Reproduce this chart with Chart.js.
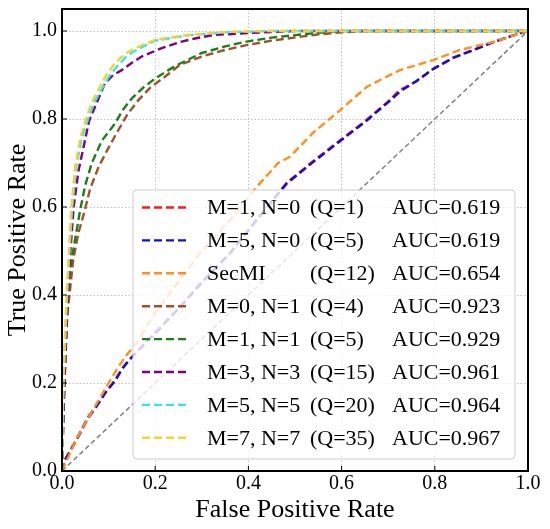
<!DOCTYPE html>
<html>
<head>
<meta charset="utf-8">
<title>ROC curves</title>
<script src="https://cdn.jsdelivr.net/npm/chart.js@4.4.0/dist/chart.umd.min.js"></script>
<style>
  html, body { margin: 0; padding: 0; background: #fff; }
  #wrap { width: 550px; height: 529px; }
</style>
</head>
<body>
<div id="wrap"><canvas id="rocChart" width="550" height="529"></canvas></div>
<script>
// Legend text, three columns
const seriesNames = ['M=1, N=0', 'M=5, N=0', 'SecMI', 'M=0, N=1', 'M=1, N=1', 'M=3, N=3', 'M=5, N=5', 'M=7, N=7'];
const queryLabels = ['(Q=1)', '(Q=5)', '(Q=12)', '(Q=4)', '(Q=5)', '(Q=15)', '(Q=20)', '(Q=35)'];
const aucLabels = ['AUC=0.619', 'AUC=0.619', 'AUC=0.654', 'AUC=0.923', 'AUC=0.929', 'AUC=0.961', 'AUC=0.964', 'AUC=0.967'];
const seriesColors = ['#ff1a1a', '#1010d0', '#ff9020', '#a0522d', '#1a7f1a', '#800080', '#33e6e6', '#f2d233'];

const xTicks = [0, 0.2, 0.4, 0.6, 0.8, 1.0];
const yTicks = [0, 0.2, 0.4, 0.6, 0.8, 1.0];

// ROC points
const fprM1N0 = [0, 0.006, 0.03, 0.056, 0.075, 0.092, 0.114, 0.13, 0.146, 0.2, 0.253, 0.3, 0.36, 0.42, 0.482, 0.54, 0.597, 0.65, 0.7, 0.725, 0.76, 0.797, 0.84, 0.882, 0.925, 0.96, 1];
const tprM1N0 = [0, 0.025, 0.07, 0.123, 0.15, 0.177, 0.207, 0.235, 0.255, 0.315, 0.373, 0.43, 0.495, 0.575, 0.655, 0.705, 0.752, 0.795, 0.84, 0.866, 0.885, 0.914, 0.94, 0.957, 0.975, 0.987, 1];

const fprM5N0 = [0, 0.006, 0.03, 0.056, 0.075, 0.092, 0.114, 0.13, 0.146, 0.2, 0.253, 0.3, 0.36, 0.42, 0.482, 0.54, 0.597, 0.65, 0.7, 0.725, 0.76, 0.797, 0.84, 0.882, 0.925, 0.96, 1];
const tprM5N0 = [0, 0.024, 0.068, 0.12, 0.148, 0.176, 0.205, 0.233, 0.254, 0.313, 0.372, 0.428, 0.494, 0.573, 0.653, 0.703, 0.75, 0.793, 0.838, 0.862, 0.886, 0.914, 0.939, 0.956, 0.974, 0.987, 1];

const fprSecMI = [0, 0.03, 0.056, 0.078, 0.1, 0.121, 0.139, 0.16, 0.2, 0.253, 0.3, 0.36, 0.418, 0.464, 0.489, 0.54, 0.597, 0.654, 0.7, 0.725, 0.797, 0.854, 0.925, 0.97, 1];
const tprSecMI = [0, 0.07, 0.12, 0.16, 0.2, 0.237, 0.264, 0.29, 0.36, 0.434, 0.5, 0.57, 0.646, 0.7, 0.714, 0.77, 0.82, 0.873, 0.898, 0.911, 0.934, 0.957, 0.975, 0.99, 1];

const fprM0N1 = [0, 0.002, 0.004, 0.007, 0.01, 0.016, 0.024, 0.035, 0.049, 0.06, 0.078, 0.1, 0.121, 0.14, 0.164, 0.19, 0.221, 0.253, 0.3, 0.35, 0.396, 0.45, 0.539, 0.6, 0.65, 1];
const tprM0N1 = [0, 0.08, 0.16, 0.25, 0.343, 0.4, 0.48, 0.54, 0.593, 0.64, 0.69, 0.735, 0.775, 0.81, 0.843, 0.872, 0.896, 0.923, 0.942, 0.957, 0.968, 0.978, 0.991, 0.997, 1, 1];

const fprM1N1 = [0, 0.002, 0.004, 0.007, 0.01, 0.017, 0.027, 0.039, 0.05, 0.064, 0.085, 0.114, 0.13, 0.15, 0.175, 0.2, 0.242, 0.3, 0.35, 0.396, 0.45, 0.539, 0.6, 1];
const tprM1N1 = [0, 0.08, 0.16, 0.25, 0.343, 0.457, 0.52, 0.593, 0.65, 0.7, 0.75, 0.79, 0.82, 0.847, 0.872, 0.892, 0.92, 0.95, 0.965, 0.976, 0.985, 0.995, 1, 1];

const fprM3N3 = [0, 0.002, 0.005, 0.009, 0.013, 0.018, 0.025, 0.035, 0.047, 0.058, 0.071, 0.092, 0.11, 0.128, 0.15, 0.171, 0.214, 0.253, 0.285, 0.325, 0.432, 0.5, 1];
const tprM3N3 = [0, 0.1, 0.2, 0.3, 0.4, 0.5, 0.6, 0.68, 0.74, 0.795, 0.828, 0.881, 0.9, 0.911, 0.928, 0.942, 0.961, 0.975, 0.983, 0.991, 0.997, 1, 1];

const fprM5N5 = [0, 0.002, 0.004, 0.007, 0.011, 0.016, 0.022, 0.03, 0.042, 0.056, 0.068, 0.082, 0.1, 0.12, 0.14, 0.165, 0.2, 0.27, 0.35, 0.45, 1];
const tprM5N5 = [0, 0.15, 0.22, 0.3, 0.4, 0.5, 0.6, 0.69, 0.755, 0.8, 0.835, 0.862, 0.895, 0.922, 0.944, 0.96, 0.978, 0.99, 0.997, 1, 1];

const fprM7N7 = [0, 0.001, 0.003, 0.006, 0.01, 0.015, 0.02, 0.028, 0.04, 0.053, 0.065, 0.078, 0.095, 0.114, 0.135, 0.157, 0.2, 0.27, 0.35, 0.45, 1];
const tprM7N7 = [0, 0.12, 0.2, 0.3, 0.4, 0.5, 0.6, 0.69, 0.76, 0.805, 0.84, 0.866, 0.9, 0.927, 0.948, 0.961, 0.98, 0.991, 0.998, 1, 1];

const chanceFpr = [0, 1];
const chanceTpr = [0, 1];

const fprList = [fprM1N0, fprM5N0, fprSecMI, fprM0N1, fprM1N1, fprM3N3, fprM5N5, fprM7N7];
const tprList = [tprM1N0, tprM5N0, tprSecMI, tprM0N1, tprM1N1, tprM3N3, tprM5N5, tprM7N7];

function toPoints(xs, ys) {
    return xs.map((x, i) => ({ x: x, y: ys[i] }));
}

const SERIF = '"Liberation Serif", "Times New Roman", serif';

const datasets = seriesNames.map((name, i) => ({
    label: name,
    data: toPoints(fprList[i], tprList[i]),
    borderColor: seriesColors[i],
    borderWidth: 2.4,
    borderDash: [8, 4],
    pointRadius: 0,
    tension: 0,
    fill: false,
    order: seriesNames.length - i
}));

datasets.push({
    label: 'chance',
    data: toPoints(chanceFpr, chanceTpr),
    borderColor: '#808080',
    borderWidth: 1.5,
    borderDash: [5, 3],
    pointRadius: 0,
    fill: false,
    order: seriesNames.length + 1
});

// Draws inward ticks, the semi-transparent legend box and the black frame
const frameAndLegend = {
    id: 'frameAndLegend',
    afterDatasetsDraw(chart) {
        const ctx = chart.ctx;
        const a = chart.chartArea;
        const xs = chart.scales.x, ys = chart.scales.y;

        ctx.save();
        // inward tick marks
        ctx.strokeStyle = '#000';
        ctx.lineWidth = 1;
        xTicks.forEach(v => {
            const px = xs.getPixelForValue(v);
            ctx.beginPath();
            ctx.moveTo(px, a.bottom);
            ctx.lineTo(px, a.bottom - 5);
            ctx.stroke();
        });
        yTicks.forEach(v => {
            const py = ys.getPixelForValue(v);
            ctx.beginPath();
            ctx.moveTo(a.left, py);
            ctx.lineTo(a.left + 5, py);
            ctx.stroke();
        });

        const boxW = 382, boxH = 269;
        const bx = a.right - 13 - boxW;
        const by = a.bottom - 12 - boxH;
        const rowH = 32.9;

        ctx.beginPath();
        ctx.roundRect(bx, by, boxW, boxH, 4);
        ctx.fillStyle = 'rgba(255,255,255,0.8)';
        ctx.fill();
        ctx.strokeStyle = '#cccccc';
        ctx.lineWidth = 1;
        ctx.stroke();

        ctx.font = '22px ' + SERIF;
        ctx.textBaseline = 'middle';
        ctx.fillStyle = '#000';
        seriesNames.forEach((name, i) => {
            const cy = by + 17.5 + i * rowH;
            ctx.beginPath();
            ctx.setLineDash([8, 4]);
            ctx.strokeStyle = seriesColors[i];
            ctx.lineWidth = 2.4;
            ctx.moveTo(bx + 9, cy);
            ctx.lineTo(bx + 56, cy);
            ctx.stroke();
            ctx.setLineDash([]);
            ctx.fillText(name, bx + 74, cy + 1);
            ctx.fillText(queryLabels[i], bx + 177, cy + 1);
            ctx.fillText(aucLabels[i], bx + 259, cy + 1);
        });

        ctx.strokeStyle = '#000';
        ctx.lineWidth = 2;
        ctx.strokeRect(a.left, a.top, a.right - a.left, a.bottom - a.top);
        ctx.restore();
    }
};

const ctx = document.getElementById('rocChart').getContext('2d');
new Chart(ctx, {
    type: 'line',
    data: { datasets: datasets },
    options: {
        responsive: false,
        animation: false,
        layout: { padding: { top: 9, right: 22, left: 0, bottom: 0 } },
        plugins: {
            legend: { display: false },
            tooltip: { enabled: false }
        },
        scales: {
            x: {
                type: 'linear',
                min: 0,
                max: 1,
                afterBuildTicks: scale => { scale.ticks = xTicks.map(v => ({ value: v })); },
                afterFit: scale => {
                    scale.height = 58;
                    scale.paddingLeft = 0;
                    scale.paddingRight = 0;
                },
                ticks: {
                    autoSkip: false,
                    maxRotation: 0,
                    padding: 1,
                    color: '#000',
                    font: { family: SERIF, size: 20 },
                    callback: v => v.toFixed(1)
                },
                grid: { color: '#b0b0b0', lineWidth: 0.8, drawTicks: false },
                border: { display: false, dash: [1.5, 2] },
                title: {
                    display: true,
                    text: 'False Positive Rate',
                    color: '#000',
                    font: { family: SERIF, size: 26 },
                    padding: { top: 0, bottom: 3 }
                }
            },
            y: {
                type: 'linear',
                min: 0,
                max: 1.05,
                afterBuildTicks: scale => { scale.ticks = yTicks.map(v => ({ value: v })); },
                afterFit: scale => {
                    scale.width = 62;
                    scale.paddingTop = 0;
                    scale.paddingBottom = 0;
                },
                ticks: {
                    autoSkip: false,
                    padding: 5,
                    color: '#000',
                    font: { family: SERIF, size: 20 },
                    callback: v => v.toFixed(1)
                },
                grid: { color: '#b0b0b0', lineWidth: 0.8, drawTicks: false },
                border: { display: false, dash: [1.5, 2] },
                title: {
                    display: true,
                    text: 'True Positive Rate',
                    color: '#000',
                    font: { family: SERIF, size: 26 },
                    padding: { top: 3, bottom: 0 }
                }
            }
        }
    },
    plugins: [frameAndLegend]
});
</script>
</body>
</html>
